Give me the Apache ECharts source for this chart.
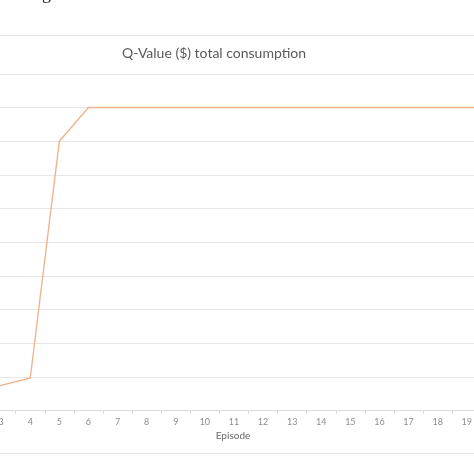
<!DOCTYPE html>
<html>
<head>
<meta charset="utf-8">
<script src="https://cdn.jsdelivr.net/npm/echarts@6/dist/echarts.min.js"></script>
<style>html,body{margin:0;padding:0;background:#fff;overflow:hidden;width:474px;height:474px}#c{position:absolute;left:-72px;top:0;width:584px;height:474px}</style>
</head>
<body>
<div id="c"></div>
<script>
var episodes = ['1','2','3','4','5','6','7','8','9','10','11','12','13','14','15','16','17','18','19','20'];
var qValues = [0.55, 0.65, 0.75, 0.97, 8.0, 9.0, 9.0, 9.0, 9.0, 9.0, 9.0, 9.0, 9.0, 9.0, 9.0, 9.0, 9.0, 9.0, 9.0, 9.0];
var chartTitle = 'Q-Value ($) total consumption';
var xAxisName = 'Episode';

var OX = 72; // offset of the visible window inside the wider chart container
var chart = echarts.init(document.getElementById('c'), null, {renderer: 'canvas'});
chart.setOption({
  animation: false,
  backgroundColor: '#ffffff',
  graphic: [
    {type: 'line', silent: true, shape: {x1: 0, y1: 35.5, x2: 584, y2: 35.5}, style: {stroke: '#e4e4e4', lineWidth: 1}},
    {type: 'line', silent: true, shape: {x1: 0, y1: 453.5, x2: 584, y2: 453.5}, style: {stroke: '#e4e4e4', lineWidth: 1}},
    {type: 'text', x: OX + 214, y: 53, style: {text: chartTitle, font: '14px Lato', fill: '#595959', textAlign: 'center', textVerticalAlign: 'middle'}},
    {type: 'text', x: OX + 233, y: 436, style: {text: xAxisName, font: '10px Lato', fill: '#666666', textAlign: 'center', textVerticalAlign: 'middle'}},
    {type: 'text', x: OX + 42, y: -15, style: {text: 'g', font: '18px "Liberation Serif"', fill: '#222'}}
  ],
  grid: {left: 0.4, right: 1.6, top: 73.8, bottom: 63.3, containLabel: false},
  xAxis: {
    type: 'category',
    data: episodes,
    boundaryGap: true,
    axisLine: {lineStyle: {color: '#d9d9d9', width: 1}},
    axisTick: {show: true, length: 3, lineStyle: {color: '#d9d9d9'}},
    axisLabel: {color: '#8c8c8c', fontSize: 9, fontFamily: 'Lato', margin: 7}
  },
  yAxis: {
    type: 'value', min: 0, max: 10, interval: 1,
    axisLine: {show: false}, axisTick: {show: false},
    axisLabel: {show: false},
    splitLine: {lineStyle: {color: '#e6e6e6', width: 1}}
  },
  series: [{
    type: 'line',
    data: qValues,
    symbol: 'none',
    z: 5,
    lineStyle: {color: '#f0b48c', width: 1.4}
  }]
});
</script>
</body>
</html>
